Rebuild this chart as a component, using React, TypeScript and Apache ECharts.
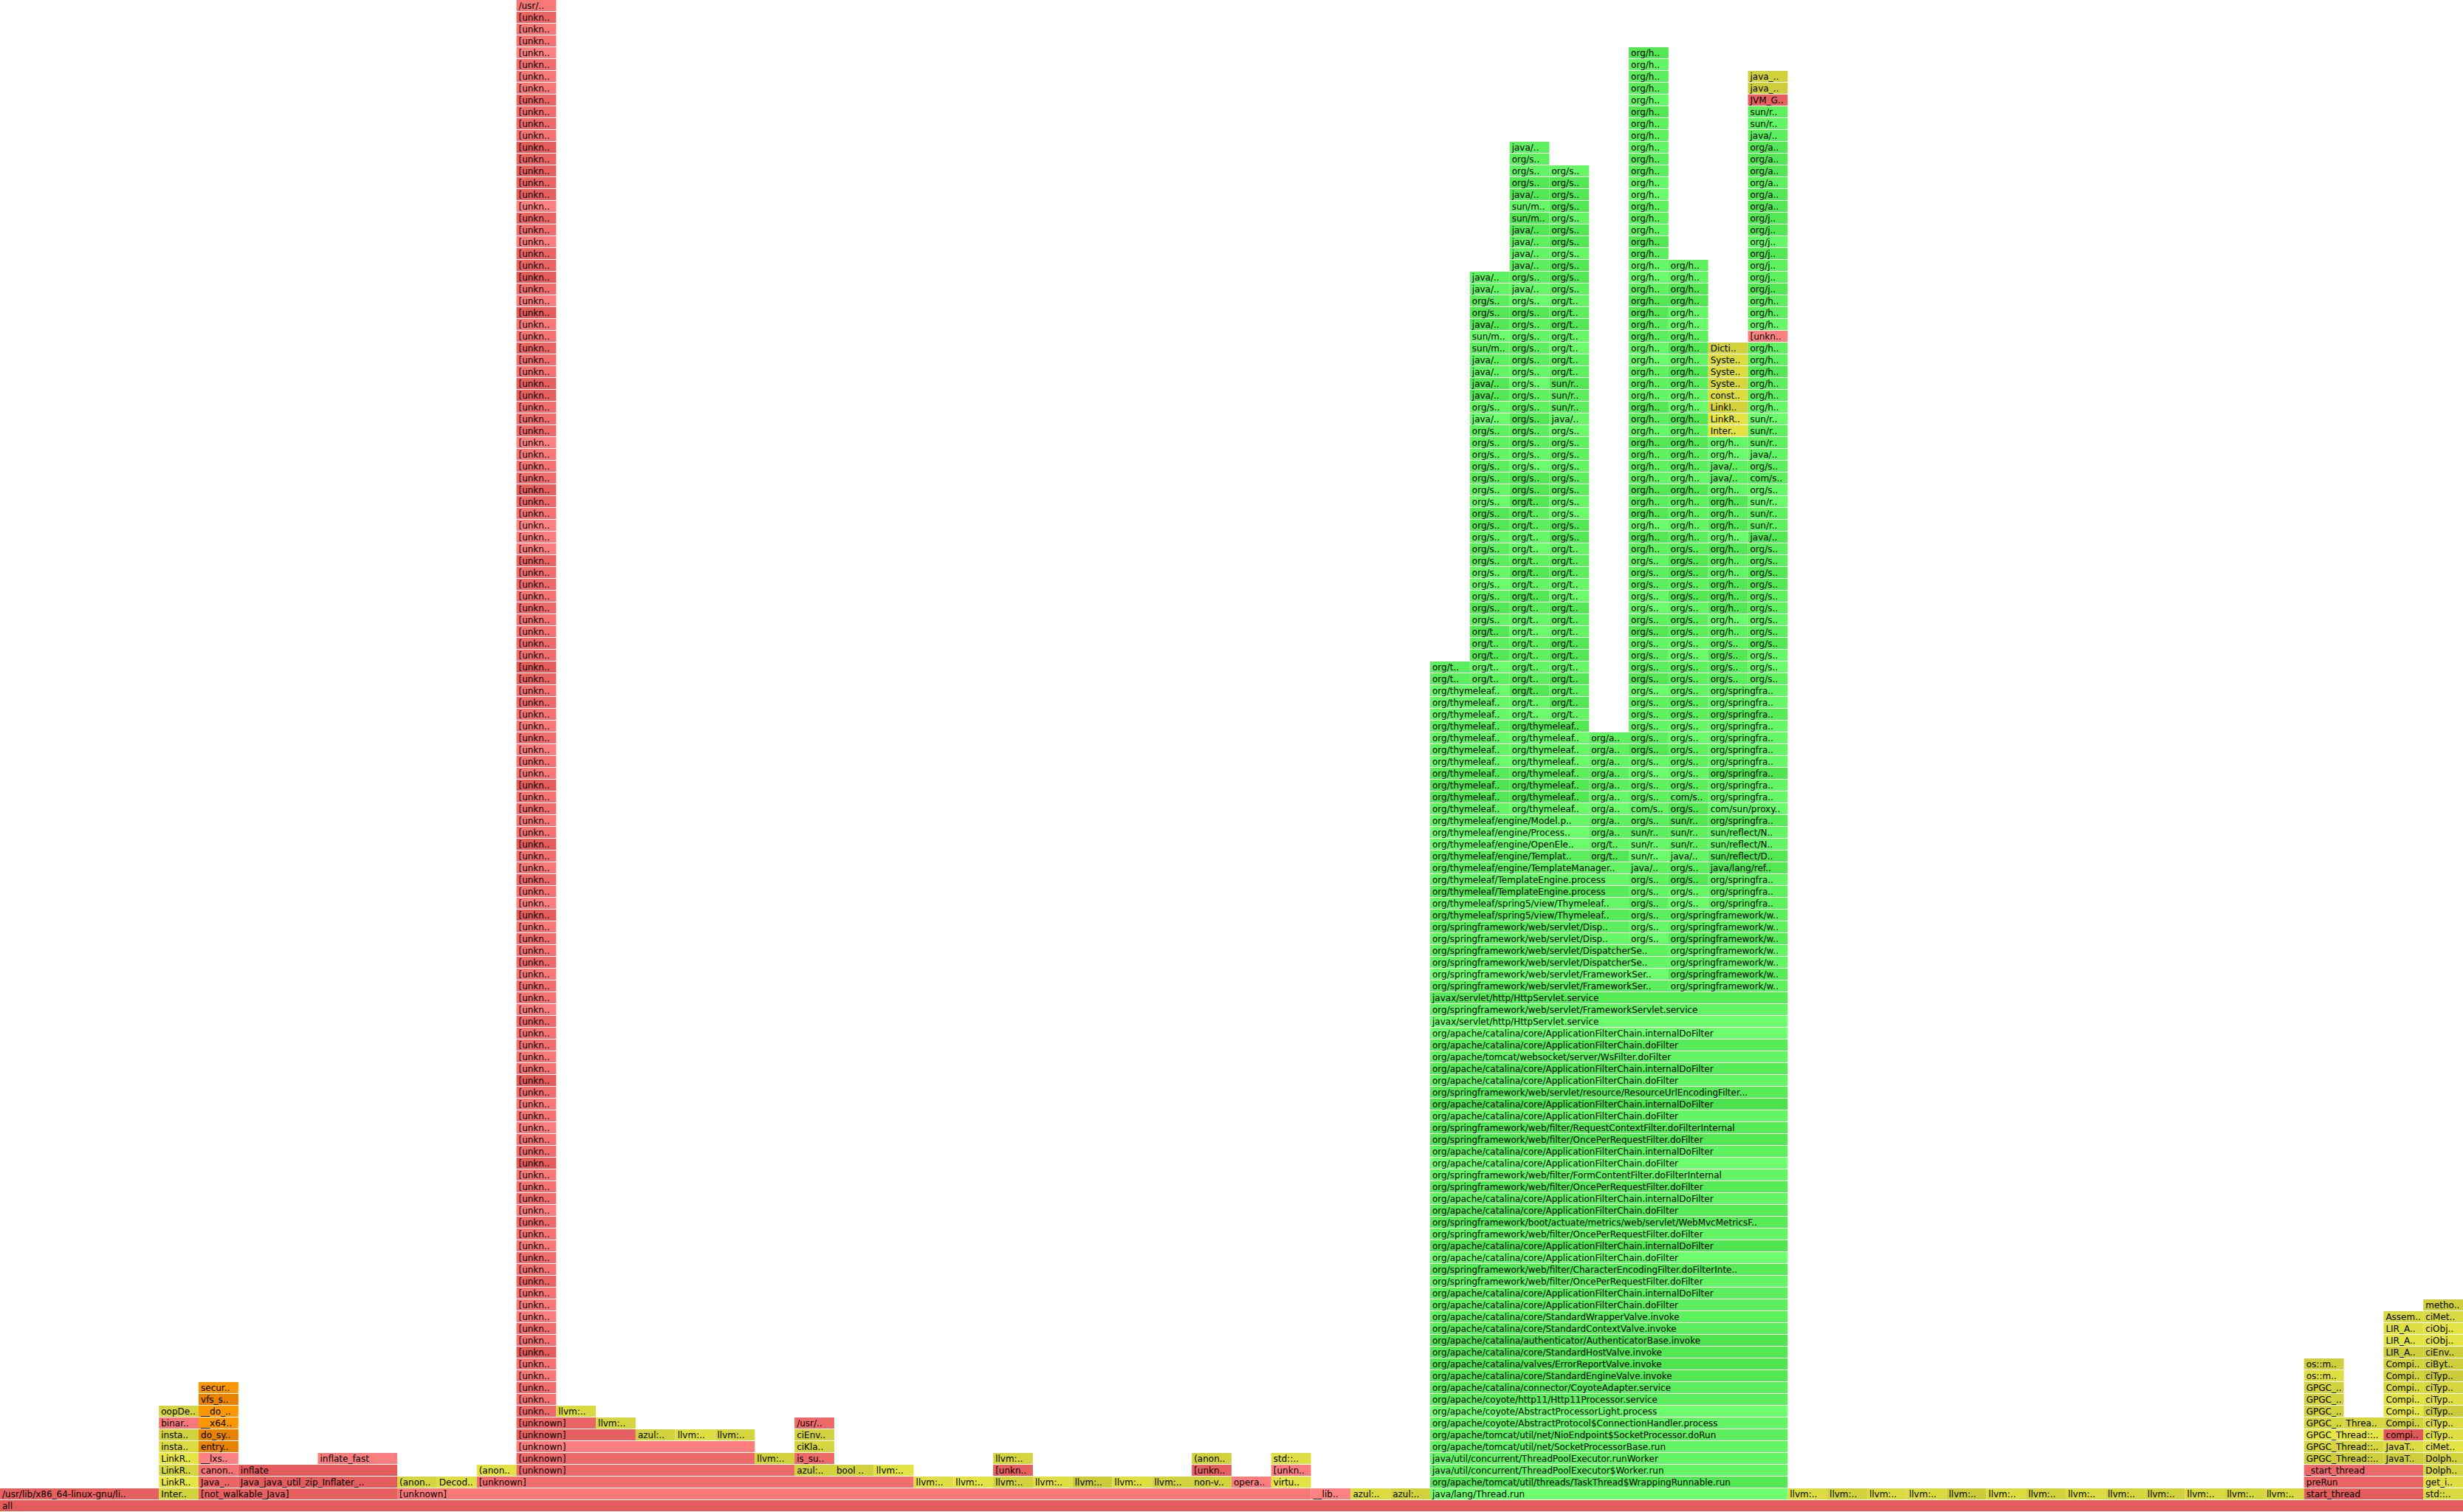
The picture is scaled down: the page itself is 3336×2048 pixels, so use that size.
import React, { useEffect, useRef } from "react";
import * as echarts from "echarts";

// A frame: [stack depth, first sample, sample count, label, kind, heat 0-9]
type Frame = [number, number, number, string, string, number];

const TOTAL_SAMPLES = 62;
const MAX_DEPTH = 128;

const nativeLeft: Frame[] = [
  [0, 0, 62, "all", "r", 1],
  [1, 0, 4, "/usr/lib/x86_64-linux-gnu/li..", "r", 2],
  [1, 4, 1, "Inter..", "y", 3],
  [1, 5, 5, "[not_walkable_Java]", "r", 2],
  [1, 10, 23, "[unknown]", "r", 7],
  [1, 33, 1, "__lib..", "r", 9],
  [1, 34, 1, "azul:..", "y", 6],
  [1, 35, 1, "azul:..", "y", 3],
  [2, 4, 1, "LinkR..", "y", 9],
  [2, 5, 1, "Java_..", "r", 3],
  [2, 6, 4, "Java_java_util_zip_Inflater_..", "r", 1],
  [2, 10, 1, "(anon..", "y", 4],
  [2, 11, 1, "Decod..", "y", 7],
  [2, 12, 11, "[unknown]", "r", 5],
  [2, 23, 1, "llvm:..", "y", 7],
  [2, 24, 1, "llvm:..", "y", 8],
  [2, 25, 1, "llvm:..", "y", 3],
  [2, 26, 1, "llvm:..", "y", 7],
  [2, 27, 1, "llvm:..", "y", 1],
  [2, 28, 1, "llvm:..", "y", 7],
  [2, 29, 1, "llvm:..", "y", 3],
  [2, 30, 1, "non-v..", "y", 3],
  [2, 31, 1, "opera..", "r", 8],
  [2, 32, 1, "virtu..", "y", 8],
  [3, 4, 1, "LinkR..", "y", 4],
  [3, 5, 1, "canon..", "r", 6],
  [3, 6, 4, "inflate", "r", 1],
  [3, 12, 1, "(anon..", "y", 8],
  [3, 13, 7, "[unknown]", "r", 4],
  [3, 20, 1, "azul:..", "y", 3],
  [3, 21, 1, "bool ..", "y", 3],
  [3, 22, 1, "llvm:..", "y", 8],
  [3, 25, 1, "[unkn..", "r", 2],
  [3, 30, 1, "[unkn..", "r", 2],
  [3, 32, 1, "[unkn..", "r", 8],
  [4, 4, 1, "LinkR..", "y", 9],
  [4, 5, 1, "__lxs..", "r", 9],
  [4, 8, 2, "inflate_fast", "r", 8],
  [4, 13, 6, "[unknown]", "r", 4],
  [4, 19, 1, "llvm:..", "y", 3],
  [4, 20, 1, "is_su..", "r", 4],
  [4, 25, 1, "llvm:..", "y", 4],
  [4, 30, 1, "(anon..", "y", 3],
  [4, 32, 1, "std::..", "y", 7],
  [5, 4, 1, "insta..", "y", 6],
  [5, 5, 1, "entry..", "o", 3],
  [5, 13, 6, "[unknown]", "r", 8],
  [5, 20, 1, "ciKla..", "y", 4],
  [6, 4, 1, "insta..", "y", 3],
  [6, 5, 1, "do_sy..", "o", 3],
  [6, 13, 3, "[unknown]", "r", 2],
  [6, 16, 1, "azul:..", "y", 3],
  [6, 17, 1, "llvm:..", "y", 7],
  [6, 18, 1, "llvm:..", "y", 4],
  [6, 20, 1, "ciEnv..", "y", 3],
  [7, 4, 1, "binar..", "r", 7],
  [7, 5, 1, "__x64..", "o", 8],
  [7, 13, 2, "[unknown]", "r", 3],
  [7, 15, 1, "llvm:..", "y", 4],
  [7, 20, 1, "/usr/..", "r", 4],
  [8, 4, 1, "oopDe..", "y", 4],
  [8, 5, 1, "__do_..", "o", 8],
  [8, 13, 1, "[unkn..", "r", 4],
  [8, 14, 1, "llvm:..", "y", 5],
  [9, 5, 1, "vfs_s..", "o", 3],
  [10, 5, 1, "secur..", "o", 8],
];

const nativeRight: Frame[] = [
  [1, 45, 1, "llvm:..", "y", 6],
  [1, 46, 1, "llvm:..", "y", 3],
  [1, 47, 1, "llvm:..", "y", 6],
  [1, 48, 1, "llvm:..", "y", 5],
  [1, 49, 1, "llvm:..", "y", 1],
  [1, 50, 1, "llvm:..", "y", 6],
  [1, 51, 1, "llvm:..", "y", 3],
  [1, 52, 1, "llvm:..", "y", 6],
  [1, 53, 1, "llvm:..", "y", 4],
  [1, 54, 1, "llvm:..", "y", 3],
  [1, 55, 1, "llvm:..", "y", 5],
  [1, 56, 1, "llvm:..", "y", 4],
  [1, 57, 1, "llvm:..", "y", 5],
  [1, 58, 3, "start_thread", "r", 1],
  [1, 61, 1, "std::..", "y", 5],
  [2, 58, 3, "preRun", "r", 3],
  [2, 61, 1, "get_i..", "y", 7],
  [3, 58, 3, "_start_thread", "r", 4],
  [3, 61, 1, "Dolph..", "y", 4],
  [4, 58, 2, "GPGC_Thread::..", "y", 2],
  [4, 60, 1, "JavaT..", "y", 2],
  [4, 61, 1, "Dolph..", "y", 3],
  [5, 58, 2, "GPGC_Thread::..", "y", 4],
  [5, 60, 1, "JavaT..", "y", 6],
  [5, 61, 1, "ciMet..", "y", 8],
  [6, 58, 2, "GPGC_Thread::..", "y", 9],
  [6, 60, 1, "compi..", "r", 0],
  [6, 61, 1, "ciTyp..", "y", 7],
  [7, 58, 1, "GPGC_..", "y", 4],
  [7, 59, 1, "Threa..", "y", 4],
  [7, 60, 1, "Compi..", "y", 3],
  [7, 61, 1, "ciTyp..", "y", 6],
  [8, 58, 1, "GPGC_..", "y", 3],
  [8, 60, 1, "Compi..", "y", 9],
  [8, 61, 1, "ciTyp..", "y", 1],
  [9, 58, 1, "GPGC_..", "y", 3],
  [9, 60, 1, "Compi..", "y", 8],
  [9, 61, 1, "ciTyp..", "y", 7],
  [10, 58, 1, "GPGC_..", "y", 3],
  [10, 60, 1, "Compi..", "y", 5],
  [10, 61, 1, "ciTyp..", "y", 4],
  [11, 58, 1, "os::m..", "y", 7],
  [11, 60, 1, "Compi..", "y", 3],
  [11, 61, 1, "ciTyp..", "y", 1],
  [12, 58, 1, "os::m..", "y", 2],
  [12, 60, 1, "Compi..", "y", 3],
  [12, 61, 1, "ciByt..", "y", 2],
  [13, 60, 1, "LIR_A..", "y", 2],
  [13, 61, 1, "ciEnv..", "y", 2],
  [14, 60, 1, "LIR_A..", "y", 8],
  [14, 61, 1, "ciObj..", "y", 8],
  [15, 60, 1, "LIR_A..", "y", 7],
  [15, 61, 1, "ciObj..", "y", 8],
  [16, 60, 1, "Assem..", "y", 5],
  [16, 61, 1, "ciMet..", "y", 5],
  [17, 61, 1, "metho..", "y", 2],
];

// Tower of unresolved native frames, sample 13, heat from depth 126 down to depth 9
const towerHeat = [
  3, 7, 6, 9, 5, 7, 7, 3, 5, 4, 6, 1, 3, 2, 3, 2, 9, 3, 5, 8, 3, 3, 1, 5, 8, 1, 7, 6, 3, 5, 6, 2, 2, 5, 5, 4, 9, 7, 6, 5, 2, 4, 6, 9, 8, 8, 3, 5, 4, 6, 4, 6, 6, 4, 5, 1, 3, 6, 4,
  6, 7, 5, 8, 6, 7, 1, 6, 5, 7, 6, 1, 5, 7, 4, 6, 8, 1, 7, 5, 6, 4, 7, 5, 6, 8, 4, 6, 5, 7, 6, 1, 5, 7, 6, 8, 6, 5, 1, 7, 6, 5, 8, 4, 6, 7, 5, 6, 3, 6, 7, 8, 5, 6, 1, 6, 7, 5, 6,
];

// The 36..45 servlet trunk: [depth, label, heat]
const trunkRows: [number, string, number][] = [
  [1, "java/lang/Thread.run", 9],
  [2, "org/apache/tomcat/util/threads/TaskThread$WrappingRunnable.run", 2],
  [3, "java/util/concurrent/ThreadPoolExecutor$Worker.run", 6],
  [4, "java/util/concurrent/ThreadPoolExecutor.runWorker", 6],
  [5, "org/apache/tomcat/util/net/SocketProcessorBase.run", 6],
  [6, "org/apache/tomcat/util/net/NioEndpoint$SocketProcessor.doRun", 4],
  [7, "org/apache/coyote/AbstractProtocol$ConnectionHandler.process", 6],
  [8, "org/apache/coyote/AbstractProcessorLight.process", 9],
  [9, "org/apache/coyote/http11/Http11Processor.service", 4],
  [10, "org/apache/catalina/connector/CoyoteAdapter.service", 4],
  [11, "org/apache/catalina/core/StandardEngineValve.invoke", 2],
  [12, "org/apache/catalina/valves/ErrorReportValve.invoke", 1],
  [13, "org/apache/catalina/core/StandardHostValve.invoke", 2],
  [14, "org/apache/catalina/authenticator/AuthenticatorBase.invoke", 1],
  [15, "org/apache/catalina/core/StandardContextValve.invoke", 4],
  [16, "org/apache/catalina/core/StandardWrapperValve.invoke", 5],
  [17, "org/apache/catalina/core/ApplicationFilterChain.doFilter", 4],
  [18, "org/apache/catalina/core/ApplicationFilterChain.internalDoFilter", 4],
  [19, "org/springframework/web/filter/OncePerRequestFilter.doFilter", 6],
  [20, "org/springframework/web/filter/CharacterEncodingFilter.doFilterInte..", 3],
  [21, "org/apache/catalina/core/ApplicationFilterChain.doFilter", 9],
  [22, "org/apache/catalina/core/ApplicationFilterChain.internalDoFilter", 1],
  [23, "org/springframework/web/filter/OncePerRequestFilter.doFilter", 6],
  [24, "org/springframework/boot/actuate/metrics/web/servlet/WebMvcMetricsF..", 3],
  [25, "org/apache/catalina/core/ApplicationFilterChain.doFilter", 3],
  [26, "org/apache/catalina/core/ApplicationFilterChain.internalDoFilter", 6],
  [27, "org/springframework/web/filter/OncePerRequestFilter.doFilter", 3],
  [28, "org/springframework/web/filter/FormContentFilter.doFilterInternal", 6],
  [29, "org/apache/catalina/core/ApplicationFilterChain.doFilter", 9],
  [30, "org/apache/catalina/core/ApplicationFilterChain.internalDoFilter", 5],
  [31, "org/springframework/web/filter/OncePerRequestFilter.doFilter", 2],
  [32, "org/springframework/web/filter/RequestContextFilter.doFilterInternal", 3],
  [33, "org/apache/catalina/core/ApplicationFilterChain.doFilter", 6],
  [34, "org/apache/catalina/core/ApplicationFilterChain.internalDoFilter", 0],
  [35, "org/springframework/web/servlet/resource/ResourceUrlEncodingFilter...", 3],
  [36, "org/apache/catalina/core/ApplicationFilterChain.doFilter", 6],
  [37, "org/apache/catalina/core/ApplicationFilterChain.internalDoFilter", 3],
  [38, "org/apache/tomcat/websocket/server/WsFilter.doFilter", 6],
  [39, "org/apache/catalina/core/ApplicationFilterChain.doFilter", 3],
  [40, "org/apache/catalina/core/ApplicationFilterChain.internalDoFilter", 9],
  [41, "javax/servlet/http/HttpServlet.service", 9],
  [42, "org/springframework/web/servlet/FrameworkServlet.service", 6],
  [43, "javax/servlet/http/HttpServlet.service", 3],
];

const springBranches: Frame[] = [
  [44, 36, 6, "org/springframework/web/servlet/FrameworkSer..", "g", 4],
  [44, 42, 3, "org/springframework/w..", "g", 5],
  [45, 36, 6, "org/springframework/web/servlet/FrameworkSer..", "g", 9],
  [45, 42, 3, "org/springframework/w..", "g", 3],
  [46, 36, 6, "org/springframework/web/servlet/DispatcherSe..", "g", 6],
  [46, 42, 3, "org/springframework/w..", "g", 6],
  [47, 36, 6, "org/springframework/web/servlet/DispatcherSe..", "g", 5],
  [47, 42, 3, "org/springframework/w..", "g", 6],
  [48, 36, 5, "org/springframework/web/servlet/Disp..", "g", 7],
  [48, 41, 1, "org/s..", "g", 9],
  [48, 42, 3, "org/springframework/w..", "g", 3],
  [49, 36, 5, "org/springframework/web/servlet/Disp..", "g", 4],
  [49, 41, 1, "org/s..", "g", 4],
  [49, 42, 3, "org/springframework/w..", "g", 5],
  [50, 36, 5, "org/thymeleaf/spring5/view/Thymeleaf..", "g", 3],
  [50, 41, 1, "org/s..", "g", 9],
  [50, 42, 3, "org/springframework/w..", "g", 4],
  [51, 36, 5, "org/thymeleaf/spring5/view/Thymeleaf..", "g", 7],
  [52, 36, 5, "org/thymeleaf/TemplateEngine.process", "g", 3],
  [53, 36, 5, "org/thymeleaf/TemplateEngine.process", "g", 7],
  [54, 36, 5, "org/thymeleaf/engine/TemplateManager..", "g", 6],
  [55, 36, 4, "org/thymeleaf/engine/Templat..", "g", 4],
  [56, 36, 4, "org/thymeleaf/engine/OpenEle..", "g", 8],
  [57, 36, 4, "org/thymeleaf/engine/Process..", "g", 9],
  [58, 36, 4, "org/thymeleaf/engine/Model.p..", "g", 7],
];

const thymeleafFirst = [69, 68, 67, 66, 65, 64, 63, 62, 61, 60, 59];
const thymeleafFirstHeat = [8, 7, 7, 4, 7, 6, 8, 3, 1, 2, 6];
const thymeleafSecond = [66, 65, 64, 63, 62, 61, 60, 59];
const thymeleafSecondHeat = [2, 8, 7, 8, 4, 2, 2, 8];

const springfraRows = [69, 68, 67, 66, 65, 64, 63, 62, 61, 60, 59, 58, 57, 56, 55, 54, 53, 52, 51];
const springfraLabels = [
  "org/springfra..", "org/springfra..", "org/springfra..", "org/springfra..", "org/springfra..",
  "org/springfra..", "org/springfra..", "org/springfra..", "org/springfra..", "org/springfra..",
  "com/sun/proxy..", "org/springfra..", "sun/reflect/N..", "sun/reflect/N..", "sun/reflect/D..",
  "java/lang/ref..", "org/springfra..", "org/springfra..", "org/springfra..",
];
const springfraHeat = [6, 7, 3, 7, 7, 6, 7, 1, 6, 7, 8, 3, 6, 6, 2, 2, 6, 5, 5];

// Short names used by the one-sample columns
const shortNames: Record<string, string> = {
  s: "org/s..", t: "org/t..", h: "org/h..", a: "org/a..", j: "org/j..",
  J: "java/..", m: "sun/m..", r: "sun/r..", c: "com/s..",
};

// Each column lists its frames from its top depth downwards; "s*17" is 17 frames named s
const col36 = "t t";
const col37 = "J J s s J m m J J J J s J s*17 t*5";
const col38 = "J s s s J m m J J J J s J s*17 t*19";
const col39 = "s*11 t*7 r*3 J s*10 t*15";
const col40 = "a*9 t t";
const col41 = "h*43 s*21 c s r*3 J s*6";
const col42 = "h*24 s*21 c s r*3 J s*4";
const col43 = "Dicti.. Syste.. Syste.. Syste.. const.. LinkI.. LinkR.. Inter.. h h J J h*13 s*4";
const col44 = "java_.. java_.. JVM_G.. r r J a*6 j*7 h*3 [unkn.. h*6 r*3 J s c s r*3 J s*12";

const columnSamples = [36, 37, 38, 39, 40, 41, 42, 43, 44];
const columnTops = [71, 104, 115, 113, 65, 123, 105, 98, 121];
const columnTexts = [col36, col37, col38, col39, col40, col41, col42, col43, col44];

// Visibly darker one-sample cells, as "depth:sample"
const darkCells = [
  "92:38", "92:42", "90:41", "90:42", "87:38", "86:38", "86:41", "86:42", "85:38", "85:43", "84:37", "84:41",
  "83:37", "83:39", "83:43", "82:39", "82:41", "82:44", "81:43", "80:42", "79:38", "79:42", "79:44", "78:43",
  "78:44", "77:38", "77:42", "77:43", "76:37", "76:39", "76:43", "74:37", "74:41", "73:39", "73:44",
  "112:38", "112:39", "111:38", "111:39", "111:44", "110:39", "110:44", "109:38", "109:44", "108:38", "108:39",
  "108:44", "107:39", "107:41", "106:44", "105:39", "104:39", "103:42", "103:44", "102:41", "102:42", "101:37",
  "101:38", "101:41", "100:37", "100:39", "98:42", "96:42", "96:44", "95:37", "95:39", "94:37", "93:41",
  "72:37", "72:39", "72:43", "70:41", "70:39", "69:38", "68:39", "64:41", "59:42", "58:42", "55:40", "53:42",
  "123:41", "118:41", "115:44", "114:44", "113:44",
];
const yellowColumnLabels = ["Dicti..", "Syste..", "const..", "LinkI..", "LinkR..", "Inter..", "java_.."];
const redColumnLabels = ["[unkn..", "JVM_G.."];
const lightPattern = [5, 4, 7, 5, 6, 4, 8];
const columnHeatOverrides: Record<string, number> = {
  "99:44": 9, "119:44": 2, "121:44": 3, "120:44": 2, "98:43": 3, "97:43": 6, "96:43": 6, "95:43": 4,
  "94:43": 6, "93:43": 3, "92:43": 8, "91:43": 8,
};

function buildFrames(): Frame[] {
  const frames: Frame[] = [...nativeLeft, ...nativeRight, ...springBranches];
  towerHeat.forEach((heat, i) => frames.push([126 - i, 13, 1, "[unkn..", "r", heat]));
  frames.push([127, 13, 1, "/usr/..", "r", 7]);
  trunkRows.forEach(([row, label, heat]) => frames.push([row, 36, 9, label, "g", heat]));
  thymeleafFirst.forEach((row, i) => frames.push([row, 36, 2, "org/thymeleaf..", "g", thymeleafFirstHeat[i]]));
  thymeleafSecond.forEach((row, i) => frames.push([row, 38, 2, "org/thymeleaf..", "g", thymeleafSecondHeat[i]]));
  springfraRows.forEach((row, i) => frames.push([row, 43, 2, springfraLabels[i], "g", springfraHeat[i]]));
  const dark = new Set(darkCells);
  columnTexts.forEach((text, c) => {
    const sample = columnSamples[c];
    const tokens: string[] = [];
    text.split(" ").forEach((part) => {
      const [name, count] = part.split("*");
      for (let n = 0; n < (count ? Number(count) : 1); n++) tokens.push(name);
    });
    tokens.forEach((token, i) => {
      const row = columnTops[c] - i;
      const label = shortNames[token] ?? token;
      const kind = yellowColumnLabels.includes(label) ? "y" : redColumnLabels.includes(label) ? "r" : "g";
      const key = `${row}:${sample}`;
      const heat = columnHeatOverrides[key] ?? (dark.has(key) ? 2 : lightPattern[(row * 3 + sample * 5) % lightPattern.length]);
      frames.push([row, sample, 1, label, kind, heat]);
    });
  });
  return frames;
}

function colorOf(kind: string, heat: number): string {
  const x = 0.45 + (0.55 * heat) / 9;
  let r = 0, g = 0, b = 0;
  if (kind === "r") { r = 200 + 55 * x; g = 50 + 80 * x; b = g; }
  else if (kind === "y") { r = 175 + 55 * x; g = r; b = 50 + 20 * x; }
  else if (kind === "o") { r = 190 + 65 * x; g = 90 + 65 * x; b = 0; }
  else { r = 50 + 60 * x; g = 200 + 55 * x; b = r; }
  return `rgb(${Math.round(r)},${Math.round(g)},${Math.round(b)})`;
}

export default function App() {
  const ref = useRef<HTMLDivElement>(null);
  useEffect(() => {
    document.body.style.margin = "0";
    const chart = echarts.init(ref.current!, undefined, { renderer: "svg" });
    const frames = buildFrames();
    chart.setOption({
      animation: false,
      backgroundColor: "#ffffff",
      grid: { left: 0, right: 0, top: 0, bottom: 0 },
      xAxis: { type: "value", min: 0, max: TOTAL_SAMPLES, show: false },
      yAxis: { type: "value", min: 0, max: MAX_DEPTH, show: false },
      series: [
        {
          type: "custom",
          silent: true,
          clip: false,
          progressive: 0,
          encode: { x: 0, y: 1 },
          data: frames.map((f) => [f[1], f[0], f[2]]),
          renderItem: (params: any, api: any) => {
            const f = frames[params.dataIndex];
            const pt = api.coord([api.value(0), api.value(1) + 1]);
            const size = api.size([api.value(2), 1]);
            return {
              type: "group",
              children: [
                {
                  type: "rect",
                  shape: { x: pt[0], y: pt[1], width: size[0], height: size[1] - 1 },
                  style: { fill: colorOf(f[4], f[5]) },
                },
                {
                  type: "text",
                  style: {
                    x: pt[0] + 3,
                    y: pt[1] + 8,
                    text: f[3],
                    fill: "#000000",
                    font: '12px "DejaVu Sans"',
                    align: "left",
                    verticalAlign: "middle",
                  },
                },
              ],
            };
          },
        },
      ],
    });
    return () => chart.dispose();
  }, []);
  return <div ref={ref} style={{ position: "absolute", left: 0, top: 0, width: 3336, height: 2048 }} />;
}
